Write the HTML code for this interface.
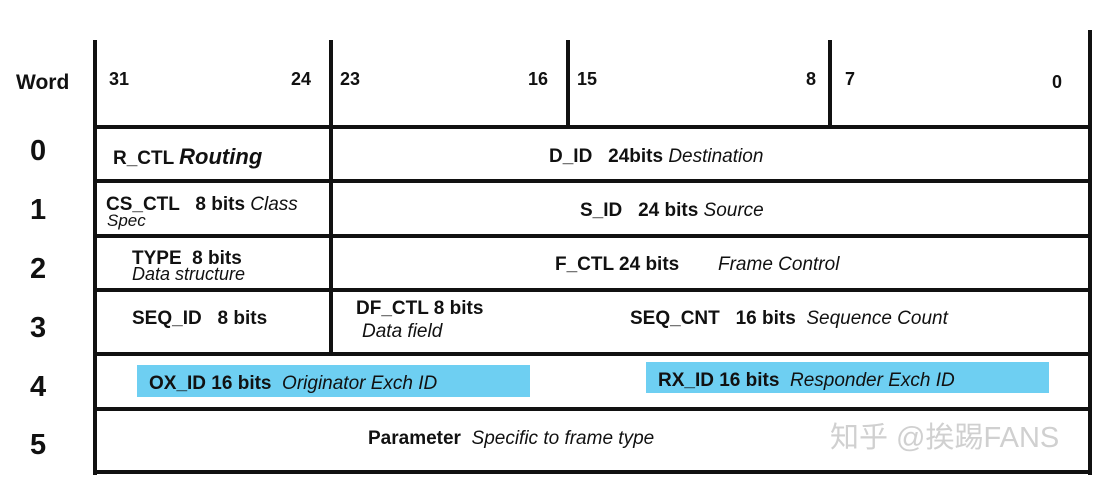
<!DOCTYPE html>
<html><head><meta charset="utf-8"><style>
html,body{margin:0;padding:0;background:#fff;width:1110px;height:483px;overflow:hidden}
svg text{font-family:"Liberation Sans",Arial,sans-serif;fill:#111;white-space:pre}
.b{font-weight:bold}
.i{font-style:italic}
</style></head><body>
<svg width="1110" height="483" viewBox="0 0 1110 483" xmlns="http://www.w3.org/2000/svg" xml:space="preserve">
<rect x="137" y="365" width="393" height="32" fill="#6ecff2"/>
<rect x="646" y="362" width="403" height="31" fill="#6ecff2"/>
<g stroke="#111" stroke-width="4" fill="none">
<line x1="95" y1="40" x2="95" y2="475"/>
<line x1="1090" y1="30" x2="1090" y2="475"/>
<line x1="331" y1="40" x2="331" y2="353"/>
<line x1="568" y1="40" x2="568" y2="127"/>
<line x1="830" y1="40" x2="830" y2="127"/>
<line x1="95" y1="127" x2="1090" y2="127"/>
<line x1="95" y1="181" x2="1090" y2="181"/>
<line x1="95" y1="236" x2="1090" y2="236"/>
<line x1="95" y1="290" x2="1090" y2="290"/>
<line x1="95" y1="354" x2="1090" y2="354"/>
<line x1="95" y1="409" x2="1090" y2="409"/>
<line x1="95" y1="472" x2="1090" y2="472"/>
</g>
<text x="16" y="89" class="b" font-size="21">Word</text>
<g class="b" font-size="18">
<text x="109" y="85">31</text><text x="291" y="85">24</text>
<text x="340" y="85">23</text><text x="528" y="85">16</text>
<text x="577" y="85">15</text><text x="806" y="85">8</text>
<text x="845" y="85">7</text><text x="1052" y="88">0</text>
</g>
<g class="b" font-size="29">
<text x="30" y="160">0</text><text x="30" y="219">1</text><text x="30" y="278">2</text>
<text x="30" y="337">3</text><text x="30" y="396">4</text><text x="30" y="454">5</text>
</g>
<g font-size="19">
<text x="113" y="164"><tspan class="b">R_CTL </tspan><tspan class="b i" font-size="22">Routing</tspan></text>
<text x="549" y="162"><tspan class="b">D_ID   24bits </tspan><tspan class="i">Destination</tspan></text>
<text x="106" y="210"><tspan class="b">CS_CTL   8 bits </tspan><tspan class="i">Class</tspan></text>
<text x="107" y="226" class="i" font-size="17">Spec</text>
<text x="580" y="216"><tspan class="b">S_ID   24 bits </tspan><tspan class="i">Source</tspan></text>
<text x="132" y="264" class="b">TYPE  8 bits</text>
<text x="132" y="280" class="i" font-size="18">Data structure</text>
<text x="555" y="270" class="b">F_CTL 24 bits</text>
<text x="718" y="270" class="i">Frame Control</text>
<text x="132" y="324"><tspan class="b">SEQ_ID   8 bits</tspan></text>
<text x="356" y="314" class="b">DF_CTL 8 bits</text>
<text x="362" y="337" class="i">Data field</text>
<text x="630" y="324"><tspan class="b">SEQ_CNT   16 bits  </tspan><tspan class="i">Sequence Count</tspan></text>
<text x="149" y="389"><tspan class="b">OX_ID 16 bits  </tspan><tspan class="i">Originator Exch ID</tspan></text>
<text x="658" y="386"><tspan class="b">RX_ID 16 bits  </tspan><tspan class="i">Responder Exch ID</tspan></text>
<text x="368" y="444"><tspan class="b">Parameter  </tspan><tspan class="i">Specific to frame type</tspan></text>
</g>
<text x="830" y="447" font-size="29" style="fill:#d0d0d0;font-family:'Liberation Sans','Noto Sans CJK SC',sans-serif">知乎 @挨踢FANS</text>
</svg>
</body></html>
